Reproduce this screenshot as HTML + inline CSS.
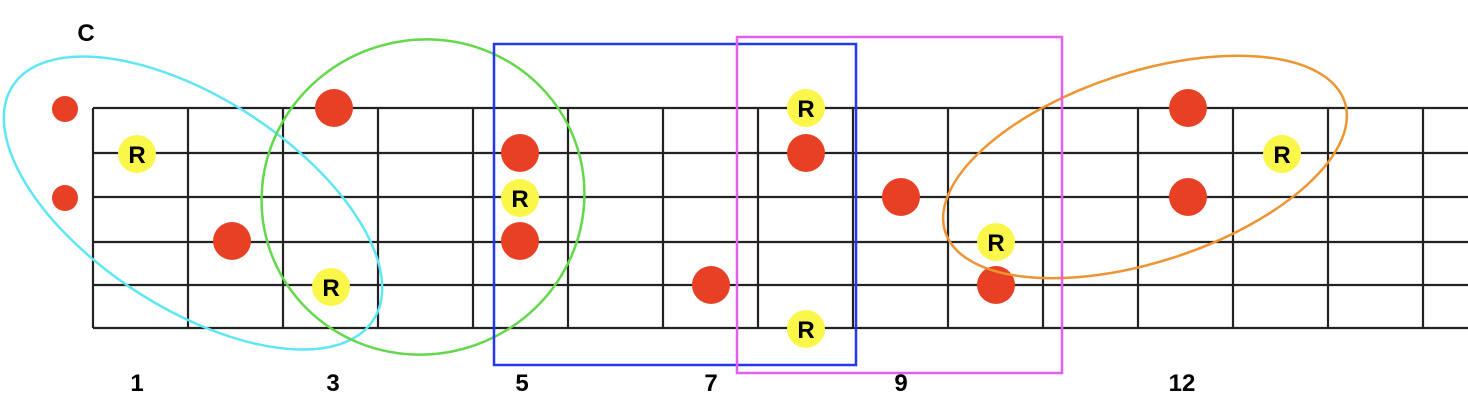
<!DOCTYPE html>
<html><head><meta charset="utf-8"><style>html,body{margin:0;padding:0;background:#fff}svg{display:block}</style></head>
<body>
<svg width="1468" height="410" viewBox="0 0 1468 410" xmlns="http://www.w3.org/2000/svg" font-family="Liberation Sans, Arial, sans-serif">
<g stroke="#222" stroke-width="2.2" fill="none">
<line x1="93" y1="108" x2="1468" y2="108"/>
<line x1="93" y1="153" x2="1468" y2="153"/>
<line x1="93" y1="197" x2="1468" y2="197"/>
<line x1="93" y1="242" x2="1468" y2="242"/>
<line x1="93" y1="285" x2="1468" y2="285"/>
<line x1="93" y1="328" x2="1468" y2="328"/>
<line x1="93" y1="108" x2="93" y2="328"/>
<line x1="188" y1="108" x2="188" y2="328"/>
<line x1="283" y1="108" x2="283" y2="328"/>
<line x1="378" y1="108" x2="378" y2="328"/>
<line x1="473" y1="108" x2="473" y2="328"/>
<line x1="568" y1="108" x2="568" y2="328"/>
<line x1="663" y1="108" x2="663" y2="328"/>
<line x1="758" y1="108" x2="758" y2="328"/>
<line x1="853" y1="108" x2="853" y2="328"/>
<line x1="948" y1="108" x2="948" y2="328"/>
<line x1="1043" y1="108" x2="1043" y2="328"/>
<line x1="1138" y1="108" x2="1138" y2="328"/>
<line x1="1233" y1="108" x2="1233" y2="328"/>
<line x1="1328" y1="108" x2="1328" y2="328"/>
<line x1="1423" y1="108" x2="1423" y2="328"/>
</g>
<g fill="#e84025">
<circle cx="65" cy="109" r="13"/><circle cx="65" cy="198" r="13"/>
<circle cx="334" cy="108" r="19"/><circle cx="232" cy="241" r="19"/>
<circle cx="520" cy="153" r="19"/><circle cx="520" cy="241" r="19"/>
<circle cx="711" cy="285" r="19"/><circle cx="806" cy="153" r="19"/>
<circle cx="901" cy="197" r="19"/><circle cx="996" cy="285" r="19"/>
<circle cx="1188" cy="108" r="19"/><circle cx="1188" cy="197" r="19"/>
</g>
<g fill="#fbf74a">
<circle cx="137" cy="154" r="19"/><circle cx="331" cy="287" r="19"/>
<circle cx="520" cy="198" r="19"/><circle cx="806" cy="108" r="19"/>
<circle cx="806" cy="329" r="19"/><circle cx="996" cy="242" r="19"/>
<circle cx="1282" cy="154" r="19"/>
</g>
<g font-weight="bold" font-size="24" text-anchor="middle" fill="#000">
<text x="137" y="163">R</text><text x="331" y="296">R</text>
<text x="520" y="207">R</text><text x="806" y="117">R</text>
<text x="806" y="338">R</text><text x="996" y="251">R</text>
<text x="1282" y="163">R</text>
</g>
<g fill="none" stroke-width="2.5">
<ellipse cx="193" cy="203" rx="215" ry="105" transform="rotate(33 193 203)" stroke="#5ee6f5"/>
<ellipse cx="423" cy="197" rx="162" ry="157" transform="rotate(-20 423 197)" stroke="#62d84a"/>
<ellipse cx="1145" cy="167" rx="210" ry="95" transform="rotate(-18 1145 167)" stroke="#ee9432"/>
<rect x="494" y="44" width="362" height="321" stroke="#2238f0"/>
<rect x="737" y="37" width="325" height="336" stroke="#e65ef0"/>
</g>
<g font-weight="bold" font-size="24" text-anchor="middle" fill="#000">
<text x="86" y="41">C</text>
<text x="137" y="391">1</text><text x="333" y="391">3</text>
<text x="522" y="391">5</text><text x="711" y="391">7</text>
<text x="901" y="391">9</text><text x="1182" y="391">12</text>
</g>
</svg>
</body></html>
